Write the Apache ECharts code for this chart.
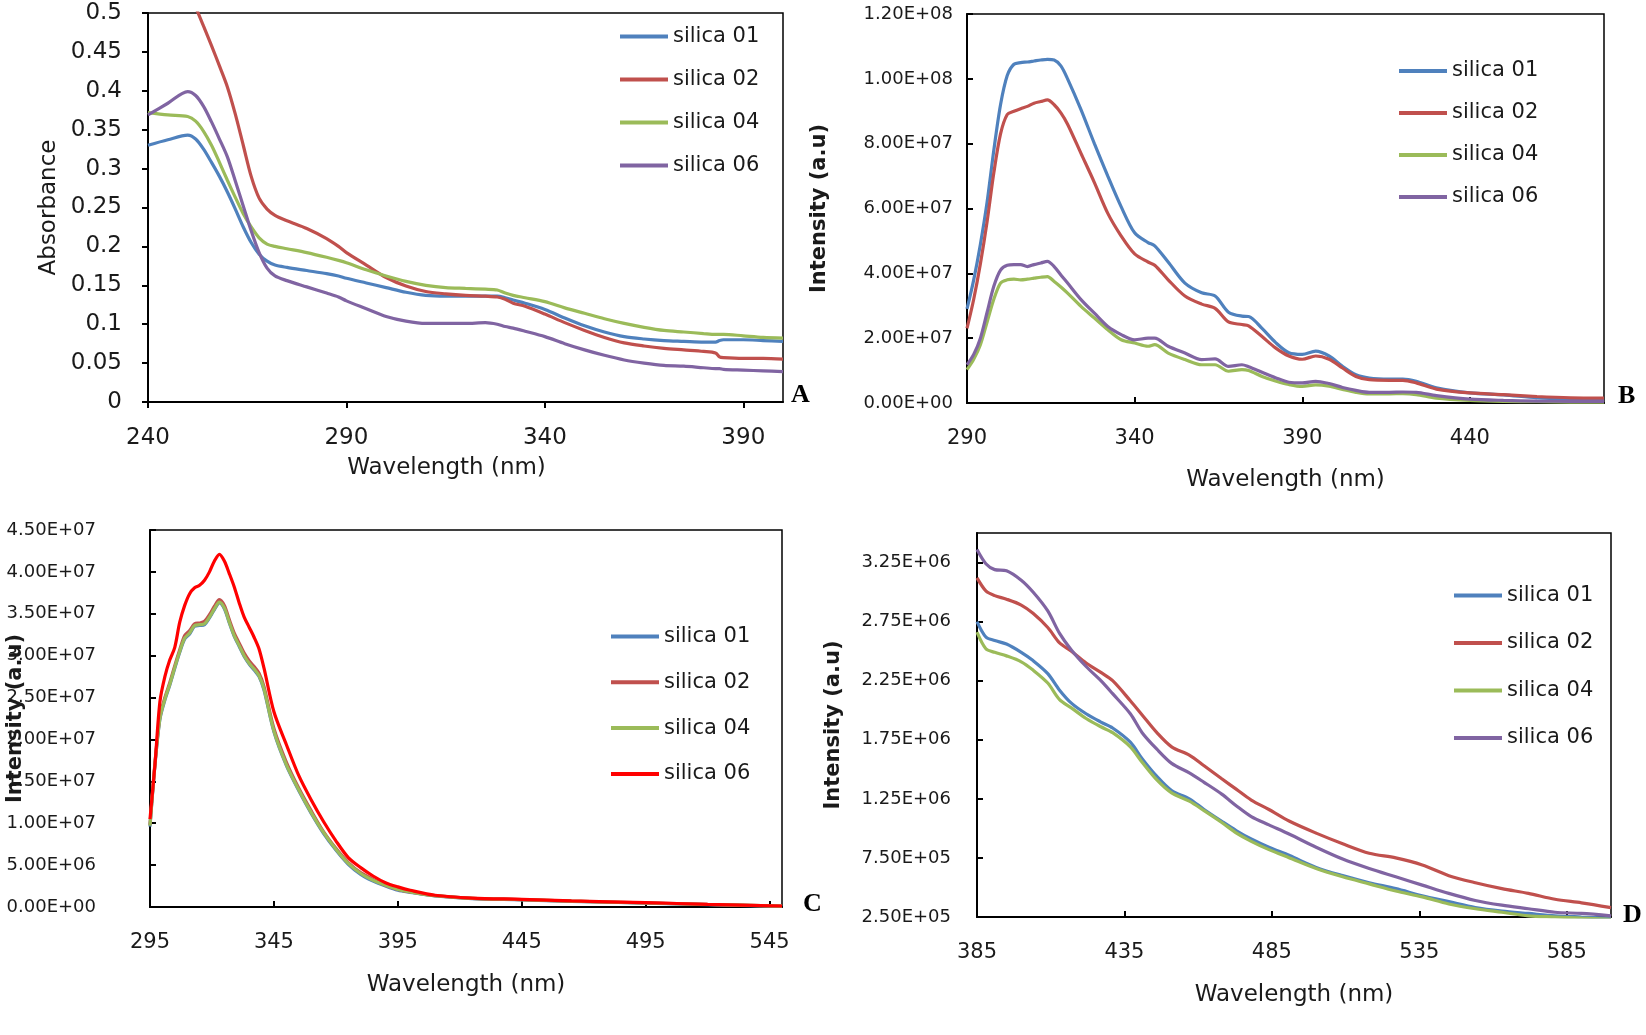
<!DOCTYPE html>
<html>
<head>
<meta charset="utf-8">
<script src="https://cdn.jsdelivr.net/npm/echarts@6/dist/echarts.min.js"></script>
<style>
  html, body { margin: 0; padding: 0; background: #fff; }
  #chart { width: 1646px; height: 1035px; }
</style>
</head>
<body>
<div id="chart"></div>
<script>
// names of the samples
const names = ['silica 01', 'silica 02', 'silica 04', 'silica 06']

// A - absorbance
const wlA = [240, 245, 250, 252, 254, 256, 258, 260, 262, 264, 266, 268, 270, 272, 275, 280, 285, 288, 290, 295,
  300, 305, 310, 315, 320, 325, 328, 330, 332, 335, 340, 345, 350, 355, 360, 365, 370, 375, 380, 383, 384, 385, 390, 395, 400]
const absA01 = [0.330, 0.337, 0.343, 0.338, 0.325, 0.308, 0.290, 0.270, 0.248, 0.225, 0.205, 0.190, 0.181, 0.176, 0.173, 0.169, 0.165, 0.162, 0.159, 0.153,
  0.147, 0.141, 0.137, 0.136, 0.136, 0.136, 0.136, 0.134, 0.131, 0.127, 0.119, 0.108, 0.098, 0.090, 0.084, 0.081, 0.079, 0.078, 0.077, 0.077, 0.079, 0.080, 0.080, 0.079, 0.078]
const absA02 = [null, null, 0.535, 0.508, 0.483, 0.458, 0.432, 0.405, 0.370, 0.330, 0.290, 0.262, 0.248, 0.240, 0.233, 0.223, 0.210, 0.200, 0.192, 0.176,
  0.160, 0.149, 0.142, 0.139, 0.137, 0.136, 0.135, 0.132, 0.127, 0.123, 0.113, 0.102, 0.092, 0.083, 0.076, 0.072, 0.069, 0.067, 0.065, 0.063, 0.058, 0.057, 0.056, 0.056, 0.055]
const absA04 = [0.372, 0.369, 0.367, 0.361, 0.348, 0.330, 0.308, 0.285, 0.263, 0.242, 0.225, 0.211, 0.203, 0.200, 0.197, 0.192, 0.186, 0.182, 0.179, 0.170,
  0.162, 0.155, 0.150, 0.147, 0.146, 0.145, 0.144, 0.140, 0.137, 0.134, 0.129, 0.121, 0.114, 0.107, 0.101, 0.096, 0.092, 0.090, 0.088, 0.087, 0.087, 0.087, 0.085, 0.083, 0.082]
const absA06 = [0.369, 0.384, 0.399, 0.394, 0.380, 0.360, 0.338, 0.315, 0.284, 0.252, 0.220, 0.192, 0.172, 0.162, 0.156, 0.148, 0.140, 0.135, 0.130, 0.120,
  0.110, 0.104, 0.101, 0.101, 0.101, 0.102, 0.100, 0.097, 0.095, 0.091, 0.084, 0.075, 0.067, 0.060, 0.054, 0.050, 0.047, 0.046, 0.044, 0.043, 0.043, 0.042, 0.041, 0.040, 0.039]

// B - emission
const wlB = [290, 292, 294, 296, 298, 300, 302, 304, 306, 308, 310, 312, 314, 316, 318, 320, 324, 328, 332, 336,
  340, 344, 346, 350, 355, 360, 364, 368, 372, 374, 378, 382, 386, 390, 394, 398, 402, 406, 410, 416, 420, 424, 430, 440, 450, 460, 470, 480]
const intB01 = [2.9e7, 3.8e7, 4.9e7, 6.2e7, 7.8e7, 9.2e7, 10.1e7, 10.45e7, 10.5e7, 10.52e7, 10.55e7, 10.58e7, 10.6e7, 10.58e7, 10.4e7, 10.0e7, 9.05e7, 8.0e7, 7.0e7, 6.05e7,
  5.25e7, 4.95e7, 4.85e7, 4.35e7, 3.7e7, 3.4e7, 3.3e7, 2.8e7, 2.68e7, 2.67e7, 2.3e7, 1.87e7, 1.55e7, 1.5e7, 1.6e7, 1.45e7, 1.13e7, 0.87e7, 0.77e7, 0.74e7, 0.74e7, 0.67e7, 0.47e7, 0.31e7, 0.25e7, 0.16e7, 0.12e7, 0.10e7]
const intB02 = [2.3e7, 3.2e7, 4.3e7, 5.6e7, 7.1e7, 8.3e7, 8.9e7, 9.0e7, 9.08e7, 9.15e7, 9.25e7, 9.3e7, 9.35e7, 9.2e7, 8.95e7, 8.6e7, 7.7e7, 6.8e7, 5.85e7, 5.15e7,
  4.6e7, 4.35e7, 4.25e7, 3.8e7, 3.3e7, 3.05e7, 2.92e7, 2.5e7, 2.42e7, 2.38e7, 2.05e7, 1.7e7, 1.45e7, 1.35e7, 1.45e7, 1.35e7, 1.08e7, 0.82e7, 0.72e7, 0.7e7, 0.7e7, 0.62e7, 0.43e7, 0.31e7, 0.26e7, 0.2e7, 0.16e7, 0.15e7]
const intB04 = [1.03e7, 1.35e7, 1.8e7, 2.5e7, 3.2e7, 3.7e7, 3.8e7, 3.82e7, 3.8e7, 3.82e7, 3.85e7, 3.88e7, 3.9e7, 3.75e7, 3.58e7, 3.39e7, 2.98e7, 2.62e7, 2.26e7, 1.95e7,
  1.85e7, 1.75e7, 1.8e7, 1.54e7, 1.34e7, 1.18e7, 1.18e7, 0.98e7, 1.03e7, 1.0e7, 0.82e7, 0.68e7, 0.57e7, 0.51e7, 0.56e7, 0.52e7, 0.42e7, 0.33e7, 0.28e7, 0.28e7, 0.29e7, 0.26e7, 0.15e7, 0.08e7, 0.05e7, 0.04e7, 0.03e7, 0.03e7]
const intB06 = [1.18e7, 1.5e7, 2.0e7, 2.8e7, 3.6e7, 4.1e7, 4.25e7, 4.27e7, 4.27e7, 4.21e7, 4.27e7, 4.32e7, 4.37e7, 4.21e7, 3.95e7, 3.7e7, 3.19e7, 2.77e7, 2.36e7, 2.11e7,
  1.95e7, 2.0e7, 2.0e7, 1.75e7, 1.54e7, 1.34e7, 1.36e7, 1.13e7, 1.18e7, 1.12e7, 0.95e7, 0.78e7, 0.64e7, 0.62e7, 0.67e7, 0.6e7, 0.48e7, 0.39e7, 0.33e7, 0.33e7, 0.34e7, 0.33e7, 0.23e7, 0.12e7, 0.08e7, 0.06e7, 0.05e7, 0.05e7]

// C - emission
const wlC = [295, 297, 299, 301, 303, 305, 307, 309, 311, 313, 315, 317, 319, 321, 323, 325, 327, 329, 331, 333,
  335, 337, 339, 341, 345, 350, 355, 360, 365, 370, 375, 380, 385, 390, 395, 400, 410, 425, 445, 465, 495, 520, 550]
const intC01 = [9.6e6, 16.9e6, 22.4e6, 24.7e6, 26.5e6, 28.5e6, 30.4e6, 32.0e6, 32.6e6, 33.5e6, 33.6e6, 33.7e6, 34.5e6, 35.5e6, 36.3e6, 35.6e6, 33.9e6, 32.3e6, 31.1e6, 29.9e6,
  29.0e6, 28.3e6, 27.5e6, 25.9e6, 20.9e6, 16.9e6, 13.9e6, 11.2e6, 8.8e6, 6.8e6, 5.1e6, 3.9e6, 3.1e6, 2.5e6, 2.0e6, 1.75e6, 1.32e6, 1.0e6, 0.86e6, 0.68e6, 0.46e6, 0.28e6, 0.08e6]
const intC02 = [9.8e6, 17.2e6, 22.7e6, 25.0e6, 26.8e6, 28.8e6, 30.7e6, 32.4e6, 33.0e6, 33.8e6, 33.9e6, 34.1e6, 34.9e6, 35.9e6, 36.7e6, 36.0e6, 34.3e6, 32.7e6, 31.5e6, 30.3e6,
  29.4e6, 28.7e6, 27.9e6, 26.3e6, 21.3e6, 17.3e6, 14.2e6, 11.5e6, 9.0e6, 7.0e6, 5.3e6, 4.1e6, 3.3e6, 2.6e6, 2.1e6, 1.8e6, 1.36e6, 1.04e6, 0.89e6, 0.71e6, 0.49e6, 0.31e6, 0.11e6]
const intC04 = [9.7e6, 17.0e6, 22.5e6, 24.8e6, 26.6e6, 28.6e6, 30.5e6, 32.1e6, 32.7e6, 33.6e6, 33.7e6, 33.8e6, 34.6e6, 35.6e6, 36.4e6, 35.7e6, 34.0e6, 32.4e6, 31.2e6, 30.0e6,
  29.1e6, 28.4e6, 27.6e6, 26.0e6, 21.0e6, 17.0e6, 14.0e6, 11.3e6, 8.9e6, 6.9e6, 5.2e6, 4.0e6, 3.2e6, 2.6e6, 2.1e6, 1.8e6, 1.35e6, 1.03e6, 0.88e6, 0.7e6, 0.48e6, 0.3e6, 0.1e6]
const intC06 = [10.5e6, 17.0e6, 24.5e6, 27.5e6, 29.5e6, 31.0e6, 34.0e6, 36.0e6, 37.4e6, 38.1e6, 38.4e6, 39.0e6, 40.0e6, 41.3e6, 42.1e6, 41.3e6, 39.8e6, 38.2e6, 36.3e6, 34.6e6,
  33.4e6, 32.2e6, 30.8e6, 28.5e6, 23.3e6, 19.4e6, 15.7e6, 12.8e6, 10.2e6, 7.9e6, 5.9e6, 4.7e6, 3.7e6, 2.9e6, 2.4e6, 2.0e6, 1.4e6, 1.07e6, 0.92e6, 0.73e6, 0.52e6, 0.32e6, 0.12e6]

// D - emission
const wlD = [385, 388, 391, 395, 400, 404, 409, 413, 417, 422, 427, 431, 437, 441, 446, 451, 457, 462, 468, 473,
  478, 484, 491, 500, 509, 518, 527, 536, 545, 554, 563, 572, 581, 590, 600]
const intD01 = [2.75e6, 2.62e6, 2.59e6, 2.56e6, 2.49e6, 2.42e6, 2.31e6, 2.17e6, 2.06e6, 1.97e6, 1.90e6, 1.85e6, 1.73e6, 1.59e6, 1.44e6, 1.32e6, 1.25e6, 1.16e6, 1.06e6, 0.98e6,
  0.91e6, 0.84e6, 0.77e6, 0.67e6, 0.60e6, 0.54e6, 0.49e6, 0.43e6, 0.38e6, 0.33e6, 0.30e6, 0.28e6, 0.26e6, 0.25e6, 0.24e6]
const intD02 = [3.12e6, 3.01e6, 2.97e6, 2.94e6, 2.89e6, 2.82e6, 2.70e6, 2.57e6, 2.50e6, 2.40e6, 2.32e6, 2.25e6, 2.08e6, 1.96e6, 1.81e6, 1.69e6, 1.62e6, 1.53e6, 1.42e6, 1.33e6,
  1.24e6, 1.16e6, 1.06e6, 0.96e6, 0.87e6, 0.79e6, 0.75e6, 0.69e6, 0.60e6, 0.54e6, 0.49e6, 0.45e6, 0.40e6, 0.37e6, 0.33e6]
const intD04 = [2.66e6, 2.52e6, 2.49e6, 2.46e6, 2.41e6, 2.34e6, 2.23e6, 2.09e6, 2.02e6, 1.93e6, 1.86e6, 1.81e6, 1.69e6, 1.56e6, 1.41e6, 1.30e6, 1.23e6, 1.15e6, 1.05e6, 0.96e6,
  0.89e6, 0.82e6, 0.75e6, 0.66e6, 0.59e6, 0.53e6, 0.47e6, 0.42e6, 0.36e6, 0.32e6, 0.29e6, 0.26e6, 0.25e6, 0.24e6, 0.23e6]
const intD06 = [3.36e6, 3.24e6, 3.19e6, 3.18e6, 3.10e6, 3.00e6, 2.84e6, 2.65e6, 2.51e6, 2.37e6, 2.25e6, 2.14e6, 1.97e6, 1.81e6, 1.67e6, 1.55e6, 1.47e6, 1.39e6, 1.29e6, 1.19e6,
  1.10e6, 1.03e6, 0.95e6, 0.84e6, 0.74e6, 0.66e6, 0.59e6, 0.52e6, 0.45e6, 0.39e6, 0.35e6, 0.32e6, 0.29e6, 0.28e6, 0.26e6]

const colors = ['#4F81BD', '#C0504D', '#9BBB59', '#8064A2']
const colorsC = ['#4F81BD', '#C0504D', '#9BBB59', '#FF0000']

const FONT = 'DejaVu Sans'
const TXT = '#1a1a1a'

// 1.20E+08 style
function fmtE(v) {
  const parts = Number(v).toExponential(2).split('e')
  const n = parseInt(parts[1], 10)
  return parts[0] + 'E' + (n < 0 ? '-' : '+') + String(Math.abs(n)).padStart(2, '0')
}

function pairs(xs, ys) {
  return xs.map((x, i) => [x, ys[i]])
}

function grid(left, top, width, height) {
  return {
    left: left, top: top, width: width, height: height,
    show: true, borderColor: '#000', borderWidth: 1.5,
    outerBoundsMode: 'none', containLabel: false
  }
}

const grids = [
  grid(148, 13, 635, 389),
  grid(967, 14, 637, 389),
  grid(150, 530, 632, 377),
  grid(977, 533, 634, 384)
]

function xAxis(idx, min, max, inside, nameGap, namePad) {
  return {
    type: 'value', gridIndex: idx, min: min, max: max, interval: 50,
    name: 'Wavelength (nm)', nameLocation: 'middle', nameGap: nameGap, nameMoveOverlap: false,
    nameTextStyle: { fontFamily: FONT, fontSize: 23, color: TXT, padding: namePad || 0 },
    axisLine: { lineStyle: { color: '#000', width: 2 } },
    axisTick: { inside: inside, length: 6, lineStyle: { color: '#000', width: 2 } },
    axisLabel: { showMaxLabel: false, margin: 25, fontFamily: FONT, fontSize: idx === 0 ? 23 : 21, color: TXT },
    splitLine: { show: false }
  }
}

function yAxis(idx, min, max, interval, name, nameGap, opts) {
  return {
    type: 'value', gridIndex: idx, min: min, max: max, interval: interval,
    name: name, nameLocation: 'middle', nameGap: nameGap, nameMoveOverlap: false,
    nameTextStyle: { fontFamily: FONT, fontSize: opts.nameSize, fontWeight: opts.bold ? 'bold' : 'normal', color: TXT },
    axisLine: { lineStyle: { color: '#000', width: 2 } },
    axisTick: { inside: opts.inside, length: 6, lineStyle: { color: '#000', width: 2 } },
    axisLabel: {
      showMaxLabel: opts.showMax, margin: opts.margin, fontFamily: FONT, fontSize: opts.size, color: TXT,
      formatter: opts.exp ? fmtE : null
    },
    splitLine: { show: false }
  }
}

function legend(idx, left, top, gap, cols) {
  return {
    orient: 'vertical', left: left, top: top, padding: 0, itemGap: gap,
    itemWidth: 48, itemHeight: 4, icon: 'rect',
    textStyle: { fontFamily: FONT, fontSize: 21, color: TXT, lineHeight: 21 },
    data: names.map((n, i) => ({ name: n, itemStyle: { color: cols[i] } })),
    selectedMode: false
  }
}

function lines(idx, xs, sets, cols) {
  return sets.map((ys, i) => ({
    name: names[i], type: 'line', xAxisIndex: idx, yAxisIndex: idx,
    data: pairs(xs, ys), showSymbol: false, smooth: 0.3, clip: true,
    lineStyle: { color: cols[i], width: 3.2 }, itemStyle: { color: cols[i] },
    animation: false
  }))
}

function letter(text, x, y) {
  return {
    type: 'text', left: x, top: y,
    style: { text: text, font: 'bold 26px "Liberation Serif"', fill: '#000' }
  }
}

const chart = echarts.init(document.getElementById('chart'))
chart.setOption({
  backgroundColor: '#fff',
  animation: false,
  grid: grids,
  xAxis: [
    xAxis(0, 240, 400, false, 55, [0, 38, 0, 0]),
    xAxis(1, 290, 480, true, 66),
    xAxis(2, 295, 550, true, 67),
    xAxis(3, 385, 600, true, 67)
  ],
  yAxis: [
    yAxis(0, 0, 0.5, 0.05, 'Absorbance', 87, { nameSize: 23, bold: false, inside: false, showMax: true, margin: 26, size: 23, exp: false }),
    yAxis(1, 0, 1.2e8, 2e7, 'Intensity (a.u)', 137, { nameSize: 21, bold: true, inside: true, showMax: true, margin: 14, size: 18, exp: true }),
    yAxis(2, 0, 4.5e7, 5e6, 'Intensity (a.u)', 124, { nameSize: 21, bold: true, inside: true, showMax: true, margin: 54, size: 18, exp: true }),
    yAxis(3, 2.5e5, 3.5e6, 5e5, 'Intensity (a.u)', 133, { nameSize: 21, bold: true, inside: true, showMax: false, margin: 26, size: 18, exp: true })
  ],
  legend: [
    legend(0, 620, 26, 22, colors),
    legend(1, 1399, 60.5, 21, colors),
    legend(2, 611, 626, 24.8, colorsC),
    legend(3, 1454, 585, 26.5, colors)
  ],
  series: [].concat(
    lines(0, wlA, [absA01, absA02, absA04, absA06], colors),
    lines(1, wlB, [intB01, intB02, intB04, intB06], colors),
    lines(2, wlC, [intC01, intC02, intC04, intC06], colorsC),
    lines(3, wlD, [intD01, intD02, intD04, intD06], colors)
  ),
  graphic: [
    letter('A', 791, 382),
    letter('B', 1618, 383),
    letter('C', 803, 891),
    letter('D', 1623, 902)
  ]
})
</script>
</body>
</html>
